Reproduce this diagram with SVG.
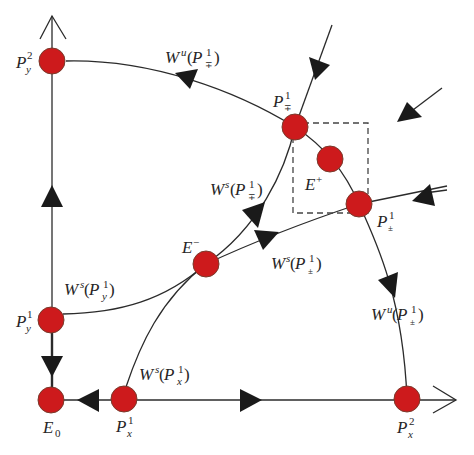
<svg xmlns="http://www.w3.org/2000/svg" width="474" height="455" viewBox="0 0 474 455">
<style>
.ln{fill:none;stroke:#2b2b2b;stroke-width:1.3}
.ar{fill:#1a1a1a;stroke:none}
.nd{fill:#cd1a1c;stroke:#7a3a2c;stroke-width:1}
.t{font-family:"Liberation Serif","DejaVu Serif",serif;font-style:italic;font-size:17px;fill:#262626}
.s{font-family:"Liberation Serif","DejaVu Serif",serif;font-style:italic;font-size:11px;fill:#262626}
.n{font-family:"Liberation Serif","DejaVu Serif",serif;font-style:normal;font-size:11px;fill:#262626}
.m{font-family:"Liberation Serif","DejaVu Serif",serif;font-style:normal;font-size:9px;fill:#262626}
.r{font-family:"Liberation Serif","DejaVu Serif",serif;font-style:normal;font-size:17px;fill:#262626}
</style>
<rect width="474" height="455" fill="#fff"/>
<g id="connectors">
  <line class="ln" x1="52" y1="400" x2="52" y2="16"/>
  <polyline class="ln" points="40,39 52,16 66,39"/>
  <line class="ln" x1="52" y1="400" x2="456" y2="400"/>
  <polyline class="ln" points="433,386 456,400 433,413"/>
  <line x1="52" y1="330" x2="52" y2="390" stroke="#2b2b2b" stroke-width="2.4"/>
  <path class="ln" d="M66 61 C150 59 235 90 295 127"/>
  <path class="ln" d="M332 25 L295 127"/>
  <path class="ln" d="M295 127 C285 172 258 228 206 264"/>
  <path class="ln" d="M206 264 Q275 232 359 204"/>
  <path class="ln" d="M359 204 L447 186"/>
  <path class="ln" d="M425 193 L447 190"/>
  <path class="ln" d="M295 127 Q338 155 359 204"/>
  <path class="ln" d="M359 204 C378 245 403 300 407 399"/>
  <path class="ln" d="M63 314 C120 313 165 300 206 264"/>
  <path class="ln" d="M126 387 C140 345 160 300 206 264"/>
  <line class="ln" x1="442" y1="88" x2="405" y2="116"/>
  <rect x="293" y="123" width="75" height="90" fill="none" stroke="#444" stroke-width="1.3" stroke-dasharray="6,4"/>
  <polygon class="ar" points="41,207 63,207 52,185"/>
  <polygon class="ar" points="41,356 63,356 52,377"/>
  <polygon class="ar" points="77,400 99,389 99,412"/>
  <polygon class="ar" points="262,400 240,389 240,412"/>
  <polygon class="ar" points="309,57 330,65 315,80"/>
  <polygon class="ar" points="175,73 198,69 190,89"/>
  <polygon class="ar" points="265,202 242,210 258,228"/>
  <polygon class="ar" points="279,232 254,230 263,250"/>
  <polygon class="ar" points="412,201 430,184 435,206"/>
  <polygon class="ar" points="378,280 398,272 395,298"/>
  <polygon class="ar" points="397,122 407,102 422,117"/>
</g>
<g id="Py2"><circle class="nd" cx="52" cy="61" r="13"/>
  <text class="t" x="16" y="68">P</text><text class="n" x="27" y="59">2</text><text class="s" x="26" y="73">y</text></g>
<g id="Py1"><circle class="nd" cx="51" cy="320" r="13"/>
  <text class="t" x="16" y="327">P</text><text class="n" x="27" y="318">1</text><text class="s" x="26" y="332">y</text></g>
<g id="E0"><circle class="nd" cx="51" cy="400" r="13"/>
  <text class="t" x="43" y="433">E</text><text class="n" x="55" y="437">0</text></g>
<g id="Px1"><circle class="nd" cx="124" cy="399" r="13"/>
  <text class="t" x="116" y="432">P</text><text class="n" x="128" y="424">1</text><text class="s" x="127" y="437">x</text></g>
<g id="Px2"><circle class="nd" cx="407" cy="399" r="13"/>
  <text class="t" x="397" y="433">P</text><text class="n" x="409" y="425">2</text><text class="s" x="408" y="438">x</text></g>
<g id="Eminus"><circle class="nd" cx="206" cy="264" r="13"/>
  <text class="t" x="182" y="253">E</text><text class="n" x="193" y="246">−</text></g>
<g id="Pmp1"><circle class="nd" cx="295" cy="127" r="13"/>
  <text class="t" x="273" y="107">P</text><text class="n" x="285" y="99">1</text><text class="m" x="284" y="111">∓</text></g>
<g id="Eplus"><circle class="nd" cx="330" cy="159" r="13"/>
  <text class="t" x="305" y="190">E</text><text class="n" x="316" y="183">+</text></g>
<g id="Ppm1"><circle class="nd" cx="359" cy="204" r="13"/>
  <text class="t" x="377" y="227">P</text><text class="n" x="389" y="219">1</text><text class="m" x="388" y="231">±</text></g>
<g id="labels">
  <text class="t" x="165" y="63">W</text><text class="s" x="181" y="56">u</text><text class="r" x="187" y="63">(</text><text class="t" x="192" y="63">P</text><text class="n" x="206" y="56">1</text><text class="m" x="205" y="68">∓</text><text class="r" x="214" y="63">)</text>
  <text class="t" x="210" y="195">W</text><text class="s" x="225" y="188">s</text><text class="r" x="230" y="195">(</text><text class="t" x="235" y="195">P</text><text class="n" x="249" y="188">1</text><text class="m" x="248" y="200">∓</text><text class="r" x="257" y="195">)</text>
  <text class="t" x="271" y="269">W</text><text class="s" x="286" y="262">s</text><text class="r" x="290" y="269">(</text><text class="t" x="295" y="269">P</text><text class="n" x="309" y="262">1</text><text class="m" x="308" y="274">±</text><text class="r" x="316" y="269">)</text>
  <text class="t" x="371" y="320">W</text><text class="s" x="387" y="313">u</text><text class="r" x="392" y="320">(</text><text class="t" x="397" y="320">P</text><text class="n" x="411" y="313">1</text><text class="m" x="410" y="325">±</text><text class="r" x="418" y="320">)</text>
  <text class="t" x="64" y="295">W</text><text class="s" x="80" y="288">s</text><text class="r" x="84" y="295">(</text><text class="t" x="89" y="295">P</text><text class="n" x="103" y="288">1</text><text class="s" x="102" y="300">y</text><text class="r" x="109" y="295">)</text>
  <text class="t" x="139" y="380">W</text><text class="s" x="155" y="373">s</text><text class="r" x="159" y="380">(</text><text class="t" x="164" y="380">P</text><text class="n" x="178" y="373">1</text><text class="s" x="177" y="385">x</text><text class="r" x="184" y="380">)</text>
</g>
</svg>
